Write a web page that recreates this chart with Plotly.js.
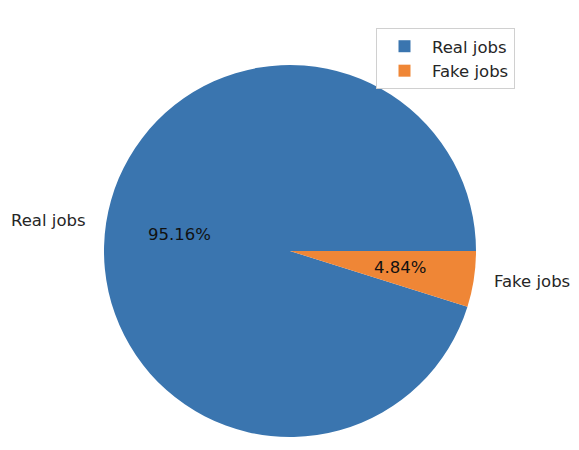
<!DOCTYPE html>
<html>
<head>
<meta charset="utf-8">
<script src="https://cdn.plot.ly/plotly-3.0.1.min.js"></script>
<style>
    html, body { margin: 0; padding: 0; background: #fff; }
    #plot { width: 579px; height: 450px; }
</style>
</head>
<body>
<div id="plot"></div>
<script>
// data
var labels = ['Real jobs', 'Fake jobs'];
var values = [95.16, 4.84];
var colors = ['rgb(58,117,175)', 'rgb(239,134,54)'];

var W = 579, H = 450;
// pie circle in pixels: centre (290,251), radius 186
var cx = 290, cy = 251, r = 186;
var domain = {
    x: [(cx - r) / W, (cx + r) / W],
    y: [1 - (cy + r) / H, 1 - (cy - r) / H]
};
var fontSize = 16.5;

var total = values.reduce((a, b) => a + b, 0);

// plotly's ccw mode ends the first slice at 'rotation', so shift it
// to have the first slice start at 3 o'clock like matplotlib's default
var trace = {
    type: 'pie',
    labels: labels,
    values: values,
    marker: { colors: colors },
    sort: false,
    direction: 'counterclockwise',
    rotation: 90 + 360 * (1 - values[0] / total),
    textinfo: 'none',
    hoverinfo: 'label+percent',
    domain: domain
};

// label at 1.1 r, percentage at 0.6 r, on each slice's middle angle (start at 3 o'clock, ccw)
var annotations = [];
var start = 0;
for (let i = 0; i < values.length; i++) {
    let frac = values[i] / total;
    let mid = (start + frac / 2) * 2 * Math.PI;
    start += frac;
    let dx = Math.cos(mid), dy = Math.sin(mid);

    annotations.push({
        xref: 'paper', yref: 'paper',
        x: (cx + 1.1 * r * dx) / W,
        y: 1 - (cy - 1.1 * r * dy) / H,
        xanchor: dx < 0 ? 'right' : 'left',
        yanchor: 'middle',
        text: labels[i],
        showarrow: false,
        font: { size: fontSize, color: '#262626' }
    });
    annotations.push({
        xref: 'paper', yref: 'paper',
        x: (cx + 0.6 * r * dx) / W,
        y: 1 - (cy - 0.6 * r * dy) / H,
        xanchor: 'center',
        yanchor: 'middle',
        text: (100 * frac).toFixed(2) + '%',
        showarrow: false,
        font: { size: fontSize, color: '#111' }
    });
}

var layout = {
    width: W,
    height: H,
    margin: { l: 0, r: 0, t: 0, b: 0 },
    paper_bgcolor: '#fff',
    font: { family: 'DejaVu Sans', size: fontSize, color: '#262626' },
    showlegend: true,
    legend: {
        x: 515 / W, xanchor: 'right',
        y: 1 - 28 / H, yanchor: 'top',
        bordercolor: '#d0d0d0',
        borderwidth: 1,
        bgcolor: '#fff',
        font: { size: fontSize },
        itemwidth: 45,
        traceorder: 'normal'
    },
    annotations: annotations
};

Plotly.newPlot('plot', [trace], layout, { displayModeBar: false });
</script>
</body>
</html>
